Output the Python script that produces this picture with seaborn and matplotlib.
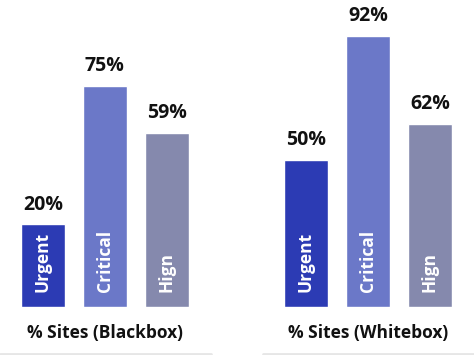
import numpy as np
import pandas as pd
import matplotlib
matplotlib.use("Agg")
import matplotlib.pyplot as plt
import seaborn as sns

# data
categories = ["Urgent", "Critical", "Hign"]
blackbox = [20, 75, 59]
whitebox = [50, 92, 62]
panel_titles = ["% Sites (Blackbox)", "% Sites (Whitebox)"]
colors = ["#2c3bb4", "#6b78c8", "#8589ad"]

# short bars get a minimum drawn height so the name inside still fits
MIN_BAR = 28

sns.set_theme(style="white")
plt.rcParams["font.family"] = ["Open Sans", "DejaVu Sans"]

fig = plt.figure(figsize=(4.74, 3.55), dpi=100)
fig.patch.set_facecolor("white")

ax_left = fig.add_axes([0.0, 0.135, 0.445, 0.831])
ax_right = fig.add_axes([263 / 474, 0.135, 0.445, 0.831])

for ax, values, title in zip([ax_left, ax_right], [blackbox, whitebox], panel_titles):
    df = pd.DataFrame({"category": categories, "value": values})
    df["drawn"] = df["value"].clip(lower=MIN_BAR)
    sns.barplot(data=df, x="category", y="drawn", hue="category",
                palette=colors, width=0.71, legend=False, ax=ax,
                saturation=1)
    ax.set_ylim(0, 100)
    ax.set_xlim(-0.69, 2.71)
    ax.axis("off")

    # value labels above bars
    for cont, v in zip(ax.containers, values):
        ax.bar_label(cont, labels=[f"{v}%"], padding=7, fontsize=14,
                     fontweight="bold", color="#111111")

    # category names inside bars
    for i, cat in enumerate(categories):
        ax.text(i, 5, cat, rotation=90, ha="center", va="bottom",
                color="white", fontsize=12.5, fontweight="bold")

    ax.text(0.5, -0.088, title, transform=ax.transAxes, ha="center",
            va="center", fontsize=12.5, fontweight="bold", color="#111111")

    # thin separator line at the bottom
    ax.plot([0, 1], [-0.158, -0.158], transform=ax.transAxes,
            color="#e6e6e6", lw=2, clip_on=False)

fig.savefig("out.png", dpi=100, facecolor="white")
